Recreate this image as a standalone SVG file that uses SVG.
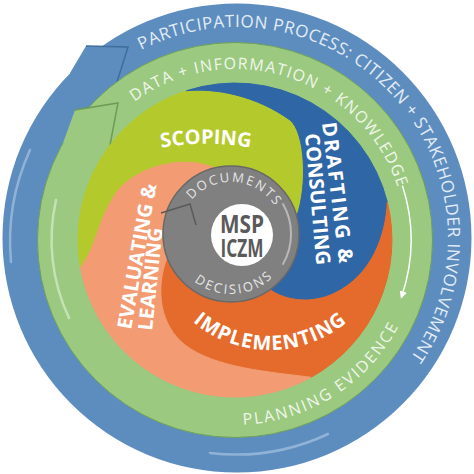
<svg xmlns="http://www.w3.org/2000/svg" width="474" height="474" viewBox="0 0 474 474">
<defs>
<style>
.ringtxt{font-family:"Open Sans","Liberation Sans",sans-serif;font-size:17px;fill:#e3ecf5;}
.greentxt{font-family:"Open Sans","Liberation Sans",sans-serif;font-size:16px;fill:#f0f6ea;}
.segtxt{font-family:"Open Sans","Liberation Sans",sans-serif;font-weight:700;font-size:20px;fill:#ffffff;}
.coretxt{font-family:"Open Sans","Liberation Sans",sans-serif;font-size:13px;fill:#e6e6e6;}
.hl{fill:none;stroke-linecap:round;}
</style>
<path id="pBlue" d="M 141.2 50 A 211 211 0 0 1 398.6 373.6"/>
<path id="pGreen" d="M 134.5 101.7 A 171 171 0 0 1 403.4 210.3"/>
<path id="pPlan" d="M 243.1 424.8 A 185 185 0 0 0 408.8 303.3"/>
<path id="pDoc" d="M 191.7 199.9 A 52 52 0 0 1 279.9 216.2"/>
<path id="pDec" d="M 194.1 281.3 A 60 60 0 0 0 277 272.6"/>
<path id="pImp" d="M 192.9 321.9 A 120 120 0 0 0 354.9 314.9"/>
<path id="pScope" d="M 150 150 A 255 255 0 0 1 262 150"/>
<marker id="ah" viewBox="0 0 10 10" refX="8" refY="5" markerWidth="5" markerHeight="5" orient="auto" markerUnits="strokeWidth">
<path d="M0,0 L10,5 L0,10 z" fill="#ffffff"/>
</marker>
</defs>

<g id="ring-participation">
<circle cx="237" cy="238" r="234.5" fill="#5d8dbf"/>
<polygon points="70,73 86,46 128,47 117,82 100,90" fill="#5d8dbf"/>
<polyline points="86,46 128,47 117,82" fill="none" stroke="#3f6d9c" stroke-width="1.5"/>
<path class="hl" d="M 11 262 A 221 221 0 0 1 30 150" stroke="#9dbbdc" stroke-width="2.5" opacity="0.8"/>
<path class="hl" d="M 328 434 A 217 217 0 0 1 210 453" stroke="#9dbbdc" stroke-width="2.5" opacity="0.8"/>
<text class="ringtxt"><textPath href="#pBlue" textLength="558" lengthAdjust="spacing">PARTICIPATION PROCESS: CITIZEN + STAKEHOLDER INVOLVEMENT</textPath></text>
</g>

<g id="ring-data">
<circle cx="235" cy="240" r="197.5" fill="#9bc980" stroke="#6f9f5c" stroke-width="1"/>
<polygon points="63,143 75,110 118,103 110,145 90,150" fill="#9bc980"/>
<polyline points="75,110 118,103 110,145" fill="none" stroke="#6c9c55" stroke-width="1.5"/>
<path class="hl" d="M 69 318 A 183 183 0 0 1 56 200" stroke="#c9e4b8" stroke-width="2.5" opacity="0.9"/>
<text class="greentxt"><textPath href="#pGreen" textLength="322" lengthAdjust="spacing">DATA + INFORMATION + KNOWLEDGE</textPath></text>
<text class="greentxt"><textPath href="#pPlan" textLength="192" lengthAdjust="spacing">PLANNING EVIDENCE</textPath></text>
</g>

<g id="seg-scoping">
<path d="M 80.4 267.5 A 157 157 0 0 1 186.5 90.7 C 215 88 255 95 290 120 C 305 132 308 185 296.7 216.4 A 68 68 0 0 0 214.5 168 C 185 155 142 165 120 188 C 98 215 98 245 80.4 267.5 Z" fill="#b4c92b" stroke="#b4c92b" stroke-width="1"/>
<text class="segtxt" font-size="21"><textPath href="#pScope" startOffset="50%" text-anchor="middle">SCOPING</textPath></text>
</g>

<g id="seg-drafting">
<path d="M 186.5 90.7 A 157 157 0 0 1 387.3 202 C 386 235 372 275 335 293 C 310 305 285 300 270 289.7 A 68 68 0 0 0 296.7 216.4 C 308 185 305 132 290 120 C 255 95 215 88 186.5 90.7 Z" fill="#2f66a6" stroke="#2f66a6" stroke-width="1"/>
<text class="segtxt" font-size="21" transform="translate(322,123) rotate(83)" textLength="142" lengthAdjust="spacing">DRAFTING &amp;</text>
<text class="segtxt" font-size="21" transform="translate(305,134) rotate(85)" textLength="132" lengthAdjust="spacing">CONSULTING</text>
</g>

<g id="seg-implementing">
<path d="M 387.3 202 A 157 157 0 0 1 311.1 377.3 C 270 372 215 368 185 345 C 160 325 155 290 167.1 257.3 A 68 68 0 0 0 270 289.7 C 285 300 310 305 335 293 C 372 275 386 235 387.3 202 Z" fill="#e46b2c" stroke="#e46b2c" stroke-width="1"/>
<text class="segtxt"><textPath href="#pImp" textLength="167" lengthAdjust="spacing">IMPLEMENTING</textPath></text>
</g>

<g id="seg-evaluating">
<path d="M 311.1 377.3 A 157 157 0 0 1 80.4 267.5 C 98 245 98 215 120 188 C 142 165 185 155 214.5 168 A 68 68 0 0 0 167.1 257.3 C 155 290 160 325 185 345 C 215 368 270 372 311.1 377.3 Z" fill="#f39b72" stroke="#f39b72" stroke-width="1"/>
<text class="segtxt" font-size="19" transform="translate(131,330) rotate(-80)">EVALUATING &amp;</text>
<text class="segtxt" font-size="19" transform="translate(152,331) rotate(-84)">LEARNING</text>
</g>

<g id="core">
<circle cx="231" cy="234" r="68" fill="#808080" stroke="#686868" stroke-width="1.5"/>
<path class="hl" d="M 283 204 A 60 60 0 0 1 283 264" stroke="#b8b8b8" stroke-width="2"/>
<text class="coretxt"><textPath href="#pDoc" textLength="96" lengthAdjust="spacing">DOCUMENTS</textPath></text>
<text class="coretxt"><textPath href="#pDec" textLength="85" lengthAdjust="spacing">DECISIONS</textPath></text>
<circle cx="242" cy="235" r="31" fill="#ffffff"/>
<text x="242" y="233" text-anchor="middle" font-family="Open Sans, Liberation Sans, sans-serif" font-weight="700" font-size="25" fill="#5a5a5a" textLength="44" lengthAdjust="spacingAndGlyphs">MSP</text>
<text x="242" y="257" text-anchor="middle" font-family="Open Sans, Liberation Sans, sans-serif" font-weight="700" font-size="25" fill="#5a5a5a" textLength="43" lengthAdjust="spacingAndGlyphs">ICZM</text>
</g>

<g id="connectors">
<polyline points="161,213 190,204 196,225" fill="none" stroke="#5a5a5a" stroke-width="1.5"/>
<path d="M 402.4 185.6 A 176 176 0 0 1 401.4 297.3" fill="none" stroke="#ffffff" stroke-width="1.5" marker-end="url(#ah)"/>
</g>
</svg>
